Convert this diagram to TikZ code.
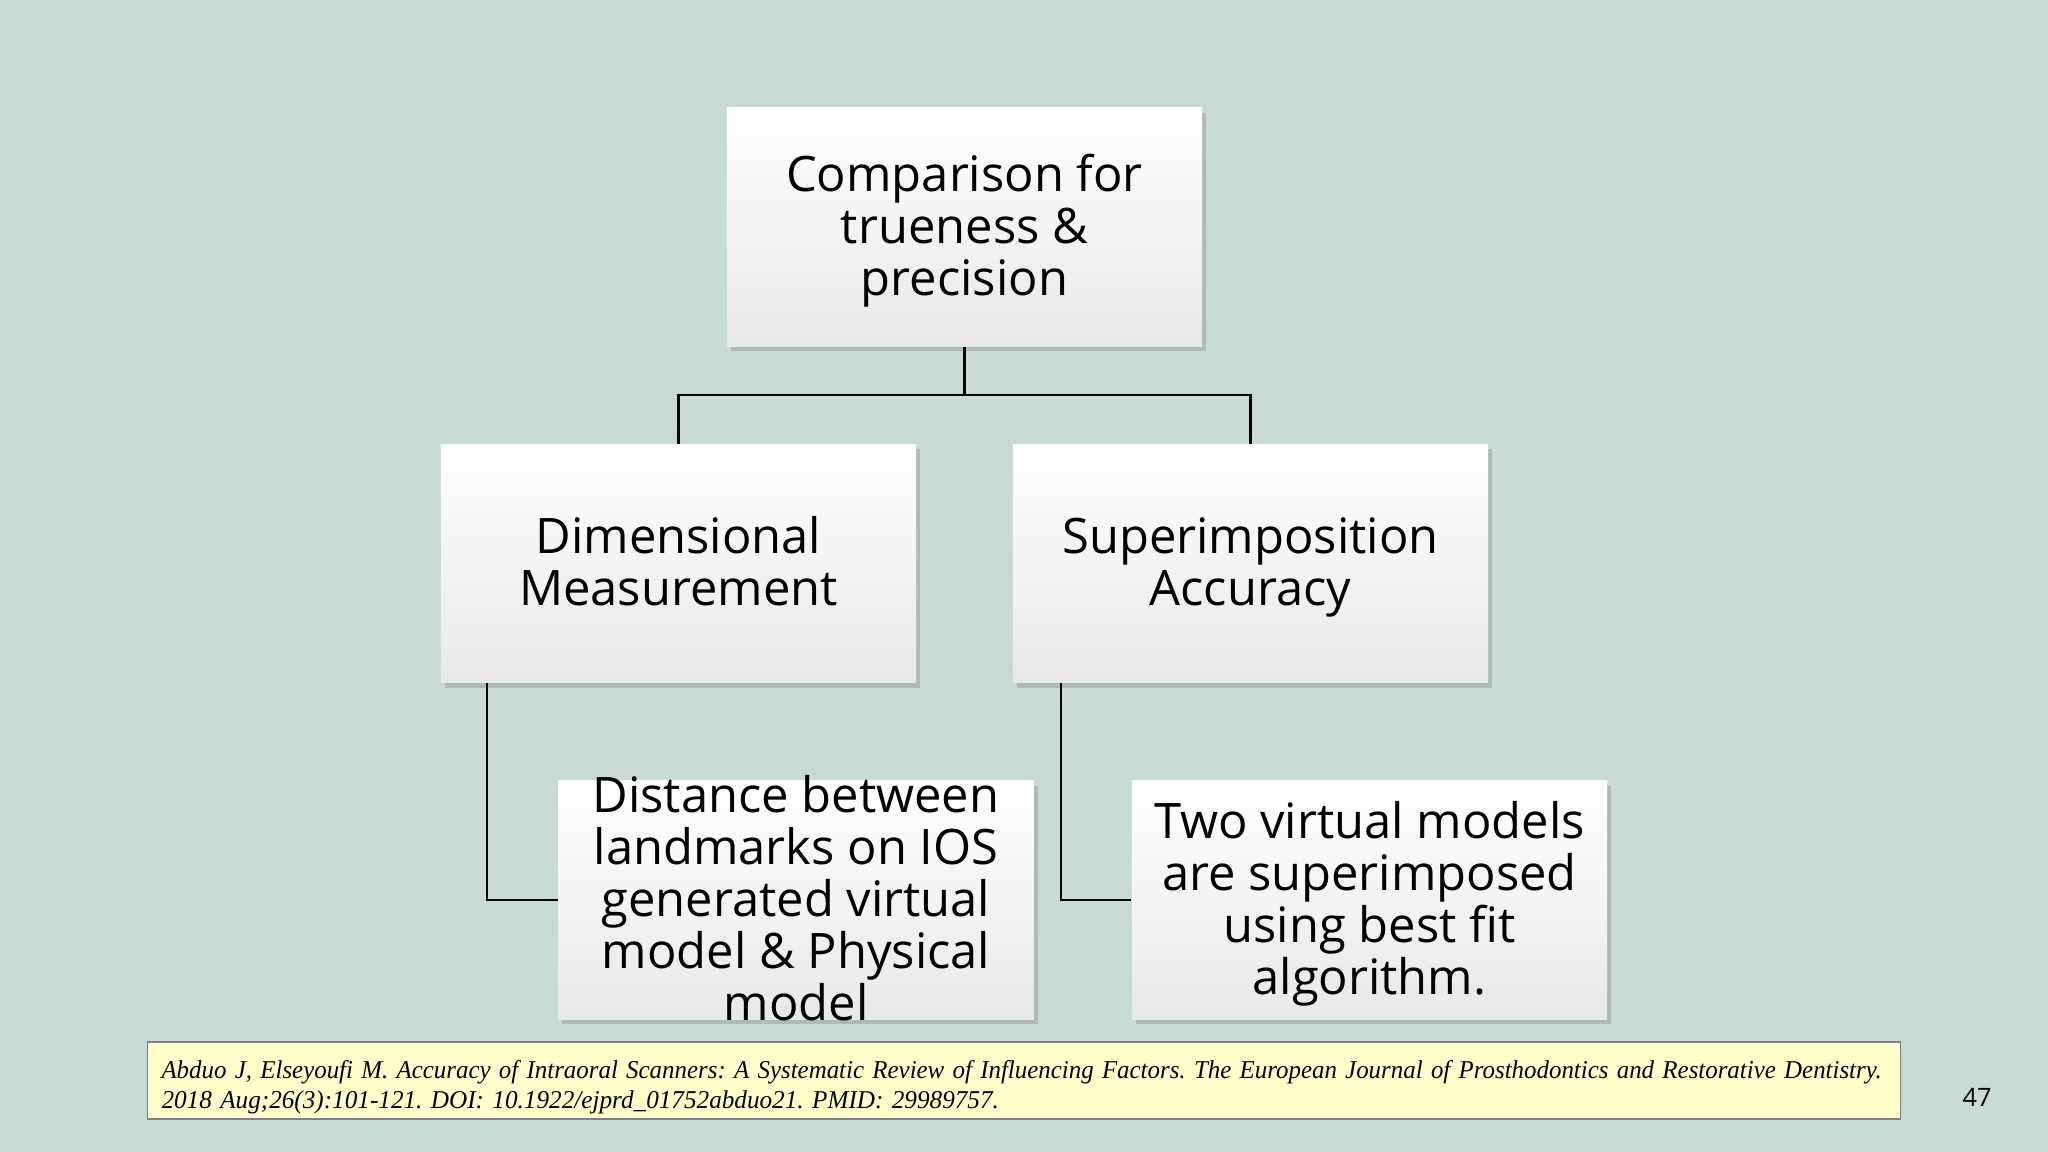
\documentclass[tikz,border=0pt]{standalone}
\usepackage{fontspec}
\setmainfont{Open Sans}
\newfontfamily\citefont{Liberation Serif}
\usetikzlibrary{positioning,shadows}
\definecolor{slidebg}{HTML}{C9DAD6}
\definecolor{citefill}{HTML}{FFFFCC}
\newcommand\upstrut{\rule{0pt}{13.6pt}}
\newcommand\downstrut{\rule[-4.4pt]{0pt}{4.4pt}}
\tikzset{
	box/.style={rectangle, minimum width=4.75cm, minimum height=2.38cm, inner sep=0pt,
		top color=white, bottom color=gray!18, align=center,
		drop shadow={opacity=0.35, shadow xshift=0.04cm, shadow yshift=-0.05cm},
		font=\fontsize{13.9}{14.8}\selectfont},
	link/.style={draw=black, line width=0.6pt},
	cite/.style={rectangle, fill=citefill, draw=gray, line width=0.5pt,
		minimum width=17.52cm, minimum height=0.77cm, inner xsep=0.14cm, inner ysep=0pt,
		text width=17.24cm, align=left,
		font=\citefont\itshape\fontsize{7.3}{8.5}\selectfont\frenchspacing},
}
\begin{document}
\begin{tikzpicture}[x=0.01cm,y=-0.01cm]
	\fill[slidebg] (0,0) rectangle (2048,1152);
	\useasboundingbox (0,0) rectangle (2048,1152);
	% boxes
	\node[box] (top) at (964.5,227) {\upstrut Comparison for\\trueness \&\\precision\downstrut};
	\node[box] (dim) at (678.5,563.5) {\upstrut Dimensional\\Measurement\downstrut};
	\node[box] (sup) at (1250.5,563.5) {\upstrut Superimposition\\Accuracy\downstrut};
	\node[box] (dist) at (796,900) {};
	\node[font=\fontsize{13.9}{14.8}\selectfont, align=center] (disttext) at (dist.center)
		{\upstrut Distance between\\landmarks on IOS\\generated virtual\\model \& Physical\\model\downstrut};
	\node[box] (two) at (1369.5,900) {\upstrut Two virtual models\\are superimposed\\using best fit\\algorithm.\downstrut};
	% connectors
	\draw[link] (top.south) -- ++(0,48) coordinate (fork);
	\draw[link] (fork) -| (dim.north);
	\draw[link] (fork) -| (sup.north);
	\draw[link] ([xshift=0.47cm]dim.south west) |- (dist.west);
	\draw[link] ([xshift=0.49cm]sup.south west) |- (two.west);
	% reference
	\node[cite] (ref) at (1024,1080.5) {\rule{0pt}{8.8pt}\resizebox{17.19cm}{\height}{Abduo J, Elseyoufi M. Accuracy of Intraoral Scanners: A Systematic Review of Influencing Factors. The European Journal of Prosthodontics and Restorative Dentistry.}\\
		\resizebox{8.37cm}{\height}{2018 Aug;26(3):101-121. DOI: 10.1922/ejprd\_01752abduo21. PMID: 29989757.}};
	\node[font=\fontsize{7.2}{9}\selectfont] (pagenum) at (1977,1097) {47};
\end{tikzpicture}
\end{document}
